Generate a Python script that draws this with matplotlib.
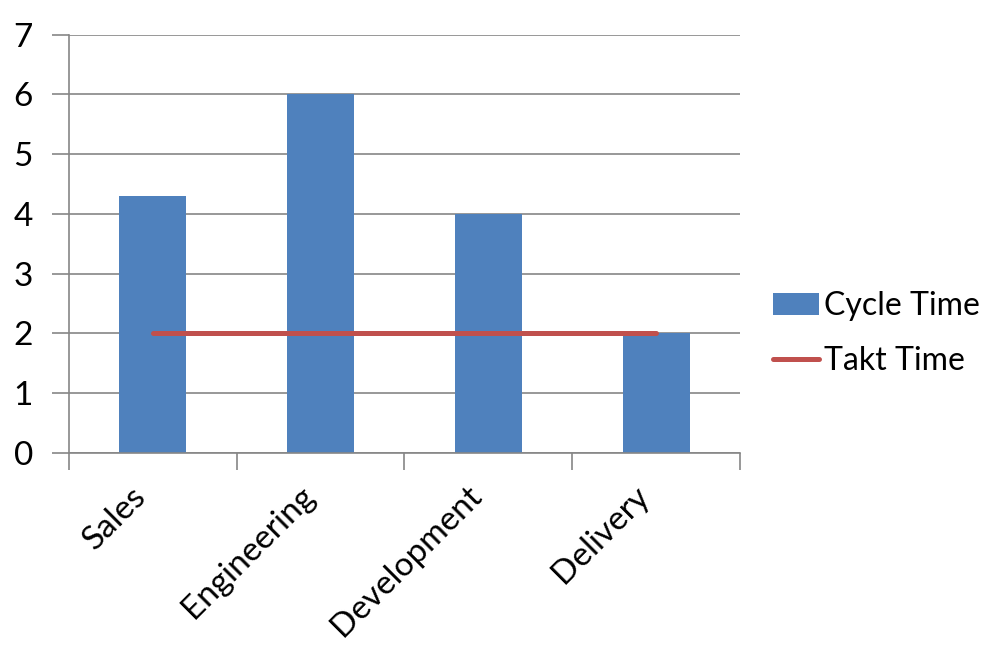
import matplotlib.pyplot as plt
import matplotlib.transforms as mtransforms
import numpy as np

plt.rcParams['font.family'] = ['Lato', 'DejaVu Sans']

# data
categories = ["Sales", "Engineering", "Development", "Delivery"]
cycle_time = [4.3, 6, 4, 2]
takt_time = [2, 2, 2, 2]

fig = plt.figure(figsize=(10.04, 6.71), dpi=100)
ax = fig.add_axes([0.0687, 0.325, 0.6683, 0.6235])

x = np.arange(len(categories))
bars = ax.bar(x, cycle_time, width=0.4, color="#4F81BD", label="Cycle Time", zorder=2)
line, = ax.plot(x, takt_time, color="#C0504D", lw=3.6, solid_capstyle="round",
                label="Takt Time", zorder=3)

ax.set_xlim(-0.5, len(categories) - 0.5)
ax.set_ylim(0, 7)
ax.set_yticks(range(8))
ax.grid(axis="y", color="#868686", lw=1.2, zorder=0)
ax.set_axisbelow(True)

for s in ["top", "right"]:
    ax.spines[s].set_visible(False)
for s in ["left", "bottom"]:
    ax.spines[s].set_color("#868686")
    ax.spines[s].set_linewidth(1.2)

# category boundaries as ticks, labels centred on bars
ax.set_xticks(np.arange(len(categories) + 1) - 0.5)
ax.set_xticklabels([])
ax.set_xticks(x, minor=True)
ax.set_xticklabels(categories, minor=True, rotation=45, ha="right",
                   rotation_mode="anchor", fontsize=24)
ax.tick_params(axis="x", which="major", length=12, color="#868686", width=1.2)
ax.tick_params(axis="x", which="minor", length=0, pad=20)
ax.tick_params(axis="y", length=12, color="#868686", width=1.2, labelsize=24, pad=14)

shift = mtransforms.ScaledTranslation(-22 / 100, 0, fig.dpi_scale_trans)
for lab in ax.get_xticklabels(minor=True):
    lab.set_transform(lab.get_transform() + shift)

ax.legend([bars, line], ["Cycle Time", "Takt Time"], loc="center left",
          bbox_to_anchor=(1.030, 0.285), frameon=False, borderaxespad=0,
          fontsize=23, handlelength=1.45, handletextpad=0.15, labelspacing=0.8)

fig.savefig("out.png", dpi=100)
